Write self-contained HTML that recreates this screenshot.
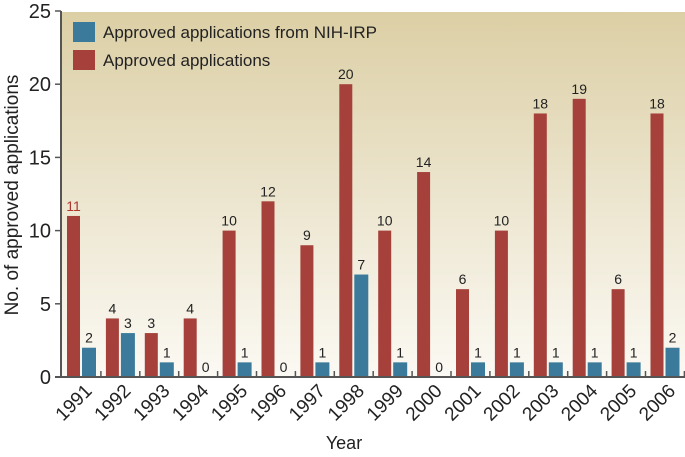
<!DOCTYPE html>
<html><head><meta charset="utf-8"><style>
body{margin:0;background:#fff;}
svg{display:block;font-family:"Liberation Sans",sans-serif;}
</style></head><body>
<svg id="chart" width="685" height="457">
<defs><linearGradient id="bg" x1="0" y1="0" x2="0" y2="1">
<stop offset="0" stop-color="#dccfa5"/><stop offset="0.6" stop-color="#efe9d6"/><stop offset="1" stop-color="#fbf9f3"/></linearGradient></defs>
<rect x="62" y="12" width="623" height="365" fill="url(#bg)"/>
<g id="bars"></g>
<g id="axes"></g>
<g>
<rect x="73" y="22" width="22" height="20" fill="#3b7a9b"/>
<text x="103" y="38" font-size="17" fill="#222">Approved applications from NIH-IRP</text>
<rect x="73" y="50" width="22" height="20" fill="#a5403a"/>
<text x="103" y="66" font-size="17" fill="#222">Approved applications</text>
</g>
<text transform="translate(18,195) rotate(-90)" text-anchor="middle" font-size="19" fill="#222">No. of approved applications</text>
<text x="344" y="449" text-anchor="middle" font-size="18" fill="#222">Year</text>
</svg>
<script>
const years=["1991","1992","1993","1994","1995","1996","1997","1998","1999","2000","2001","2002","2003","2004","2005","2006"];
const approved=[11,4,3,4,10,12,9,20,10,14,6,10,18,19,6,18];
const nihIrp=[2,3,1,0,1,0,1,7,1,0,1,1,1,1,1,2];
const yTicks=[0,5,10,15,20,25];
const NS="http://www.w3.org/2000/svg";
const x0=62,gw=38.9,yb=377,yt=11,ymax=25;
const y=v=>yb-(yb-yt)*v/ymax;
const gx=i=>x0+i*gw;
function mk(tag,attrs,parent,txt){const e=document.createElementNS(NS,tag);for(const k in attrs)e.setAttribute(k,attrs[k]);if(txt!==undefined)e.textContent=txt;parent.appendChild(e);return e;}
const bars=document.getElementById('bars'),axes=document.getElementById('axes');
years.forEach((yr,i)=>{
  const r=mk('rect',{x:gx(i)+5,y:y(approved[i]),width:13,height:yb-y(approved[i]),fill:'#a5403a'},bars);
  
  
  const rl=mk('text',{x:gx(i)+11.5,y:y(approved[i])-5,'text-anchor':'middle','font-size':14,fill:i===0?'#b0382e':'#222'},bars,approved[i]);
  
  
  const b=mk('rect',{x:gx(i)+20,y:y(nihIrp[i]),width:14,height:yb-y(nihIrp[i]),fill:'#3b7a9b'},bars);
  
  
  const bl=mk('text',{x:gx(i)+27,y:y(nihIrp[i])-5,'text-anchor':'middle','font-size':14,fill:'#222'},bars,nihIrp[i]);
  
  
  const t=mk('line',{x1:gx(i+1),x2:gx(i+1),y1:yb,y2:yb-6,stroke:'#555','stroke-width':1.5},axes);
  
  
  const lx=gx(i)+31,ly=392;
  const l=mk('text',{x:lx,y:ly,'text-anchor':'end','font-size':19,fill:'#222',transform:`rotate(-45 ${lx} ${ly})`},axes,yr);
  
  
});
yTicks.forEach(v=>{
  const t=mk('line',{x1:55,x2:61,y1:y(v),y2:y(v),stroke:'#555','stroke-width':1.5},axes);
  
  
  const l=mk('text',{x:51,y:y(v)+7,'text-anchor':'end','font-size':20,fill:'#222'},axes,v);
  
  
});
const ya=mk('line',{x1:61,x2:61,y1:yt,y2:yb+1,stroke:'#555','stroke-width':2},axes);


const xa=mk('line',{x1:55,x2:685,y1:yb,y2:yb,stroke:'#555','stroke-width':2},axes);


</script>
</body></html>
